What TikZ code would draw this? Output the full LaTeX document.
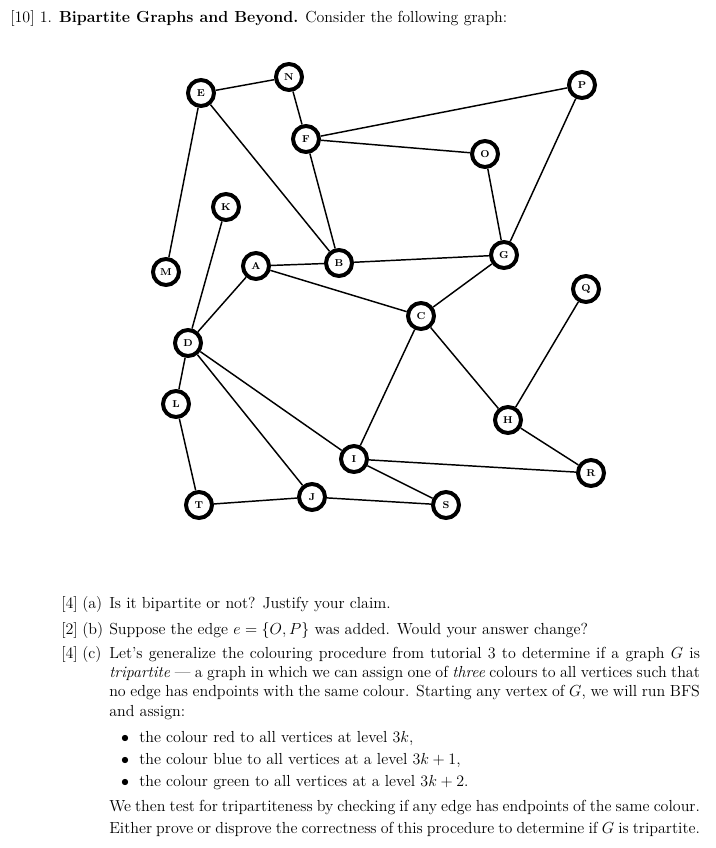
\documentclass[tikz,border=0pt]{standalone}
\newcommand\jline[1]{\hbox to 443pt{#1}}
\begin{document}
\begin{tikzpicture}[x=0.75pt,y=-0.75pt,
  vtx/.style={circle,draw,line width=3pt,fill=white,minimum size=19.5pt,inner sep=0pt,font=\fontsize{7.5}{9}\selectfont\bfseries},
  edge/.style={line width=1.1pt},
  txt/.style={anchor=base west,inner sep=0pt,font=\fontsize{12}{14.5}\selectfont}]
\useasboundingbox[fill=white] (0,0) rectangle (715,848);
% vertices
\node[vtx] (E) at (201,93) {E};
\node[vtx] (N) at (289,77) {N};
\node[vtx] (P) at (582,85) {P};
\node[vtx] (F) at (306,139) {F};
\node[vtx] (O) at (485,154) {O};
\node[vtx] (K) at (226,207) {K};
\node[vtx] (M) at (166,272) {M};
\node[vtx] (A) at (256,266) {A};
\node[vtx] (B) at (339,263) {B};
\node[vtx] (G) at (504,255) {G};
\node[vtx] (Q) at (586,289) {Q};
\node[vtx] (C) at (421,316) {C};
\node[vtx] (D) at (188,343) {D};
\node[vtx] (L) at (176,404) {L};
\node[vtx] (H) at (508,420) {H};
\node[vtx] (I) at (354,459) {I};
\node[vtx] (R) at (591,473) {R};
\node[vtx] (T) at (199,505) {T};
\node[vtx] (J) at (312,497) {J};
\node[vtx] (S) at (446,505) {S};
% edges
\draw[edge] (E) -- (N);
\draw[edge] (E) -- (M);
\draw[edge] (E) -- (B);
\draw[edge] (N) -- (F);
\draw[edge] (F) -- (P);
\draw[edge] (F) -- (O);
\draw[edge] (F) -- (B);
\draw[edge] (O) -- (G);
\draw[edge] (P) -- (G);
\draw[edge] (K) -- (D);
\draw[edge] (A) -- (B);
\draw[edge] (A) -- (C);
\draw[edge] (A) -- (D);
\draw[edge] (B) -- (G);
\draw[edge] (G) -- (C);
\draw[edge] (C) -- (I);
\draw[edge] (C) -- (H);
\draw[edge] (Q) -- (H);
\draw[edge] (H) -- (R);
\draw[edge] (D) -- (L);
\draw[edge] (D) -- (J);
\draw[edge] (D) -- (I);
\draw[edge] (L) -- (T);
\draw[edge] (T) -- (J);
\draw[edge] (J) -- (S);
\draw[edge] (I) -- (S);
\draw[edge] (I) -- (R);
% header
\node[txt] (hdr) at (10,23) {[10] 1. \textbf{Bipartite Graphs and Beyond.} Consider the following graph:};
% questions
\node[txt] (la) at (61,608) {[4]};
\node[txt] (pa) at (82,608) {(a)};
\node[txt] (ta) at (109,608) {Is it bipartite or not? Justify your claim.};
\node[txt] (lb) at (61,634) {[2]};
\node[txt] (pb) at (82,634) {(b)};
\node[txt] (tb) at (109,634) {Suppose the edge $e=\{O,P\}$ was added. Would your answer change?};
\node[txt] (lc) at (61,658) {[4]};
\node[txt] (pc) at (82,658) {(c)};
\node[txt] (c1) at (109,658) {\jline{Let's generalize the colouring procedure from tutorial 3 to determine if a graph $G$ is}};
\node[txt] (c2) at (109,677.3) {\jline{\textit{tripartite}\hspace{0.3em}--- a graph in which we can assign one of \textit{three} colours to all vertices such that}};
\node[txt] (c3) at (109,696.7) {\jline{no edge has endpoints with the same colour. Starting any vertex of $G$, we will run BFS}};
\node[txt] (c4) at (109,716) {and assign:};
\node[txt,anchor=base] (b1) at (125,742) {$\bullet$};
\node[txt] (i1) at (139,742) {the colour red to all vertices at level $3k$,};
\node[txt,anchor=base] (b2) at (125,764) {$\bullet$};
\node[txt] (i2) at (139,764) {the colour blue to all vertices at a level $3k+1$,};
\node[txt,anchor=base] (b3) at (125,786) {$\bullet$};
\node[txt] (i3) at (139,786) {the colour green to all vertices at a level $3k+2$.};
\node[txt] (w1) at (109,811) {\jline{We then test for tripartiteness by checking if any edge has endpoints of the same colour.}};
\node[txt] (w2) at (109,833) {\jline{Either prove or disprove the correctness of this procedure to determine if $G$ is tripartite.}};
\end{tikzpicture}
\end{document}
